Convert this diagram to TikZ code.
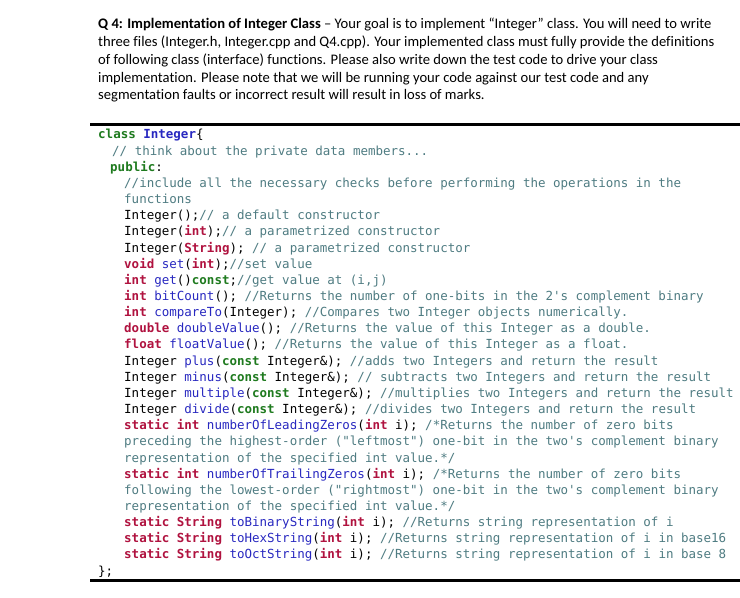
\documentclass[tikz,border=0pt]{standalone}
\usepackage{fontspec}
\setmainfont[Ligatures={TeX,NoCommon}]{Carlito}
\newfontfamily\codefont{DejaVu Sans Mono}
\definecolor{kwc}{HTML}{B0123F}
\definecolor{grc}{HTML}{1E7A1E}
\definecolor{fnc}{HTML}{2828C0}
\definecolor{cmc}{HTML}{4F7C82}
\newcommand{\kw}[1]{\textcolor{kwc}{\bfseries #1}}
\newcommand{\gk}[1]{\textcolor{grc}{\bfseries #1}}
\newcommand{\fn}[1]{\textcolor{fnc}{#1}}
\newcommand{\cm}[1]{\textcolor{cmc}{#1}}
\tikzset{txt/.style={anchor=base west,inner sep=0pt,font=\fontsize{14.6bp}{17bp}\selectfont},
code/.style={anchor=base west,inner sep=0pt,font=\codefont\fontsize{12.5bp}{16bp}\selectfont},
rulel/.style={line width=3bp,black}}
\begin{document}
\begin{tikzpicture}[x=1bp,y=-1bp]
\useasboundingbox[fill=white] (0,0) rectangle (740,598);
\node[txt] (t1) at (98,29) {\textbf{Q 4: Implementation of Integer Class} – Your goal is to implement “Integer" class. You will need to write};
\node[txt] (t2) at (98,46.7) {three files (Integer.h, Integer.cpp and Q4.cpp). Your implemented class must fully provide the definitions};
\node[txt] (t3) at (98,64.4) {of following class (interface) functions. Please also write down the test code to drive your class};
\node[txt] (t4) at (98,82.1) {implementation. Please note that we will be running your code against our test code and any};
\node[txt] (t5) at (98,99.8) {segmentation faults or incorrect result will result in loss of marks.};
\draw[rulel] (90,125) coordinate (r1a) -- (740,125) coordinate (r1b);
\draw[rulel] (90,580) coordinate (r2a) -- (740,580) coordinate (r2b);
\def\bl#1{\fpeval{139+16.15*(#1)}}
\node[code] (c1) at (98,{\bl{0}}) {\gk{class} \fn{\bfseries Integer}\{};
\node[code] (c2) at (112,{\bl{1}}) {\cm{// think about the private data members...}};
\node[code] (c3) at (110,{\bl{2}}) {\gk{public}:};
\node[code] (c4) at (124,{\bl{3}}) {\cm{//include all the necessary checks before performing the operations in the}};
\node[code] (c5) at (124,{\bl{4}}) {\cm{functions}};
\node[code] (c6) at (124,{\bl{5}}) {Integer();\cm{// a default constructor}};
\node[code] (c7) at (124,{\bl{6}}) {Integer(\kw{int});\cm{// a parametrized constructor}};
\node[code] (c8) at (124,{\bl{7}}) {Integer(\kw{String}); \cm{// a parametrized constructor}};
\node[code] (c9) at (124,{\bl{8}}) {\kw{void} \fn{set}(\kw{int});\cm{//set value}};
\node[code] (c10) at (124,{\bl{9}}) {\kw{int} \fn{get}()\gk{const};\cm{//get value at (i,j)}};
\node[code] (c11) at (124,{\bl{10}}) {\kw{int} \fn{bitCount}(); \cm{//Returns the number of one-bits in the 2's complement binary}};
\node[code] (c12) at (124,{\bl{11}}) {\kw{int} \fn{compareTo}(Integer); \cm{//Compares two Integer objects numerically.}};
\node[code] (c13) at (124,{\bl{12}}) {\kw{double} \fn{doubleValue}(); \cm{//Returns the value of this Integer as a double.}};
\node[code] (c14) at (124,{\bl{13}}) {\kw{float} \fn{floatValue}(); \cm{//Returns the value of this Integer as a float.}};
\node[code] (c15) at (124,{\bl{14}}) {Integer \fn{plus}(\gk{const} Integer\&); \cm{//adds two Integers and return the result}};
\node[code] (c16) at (124,{\bl{15}}) {Integer \fn{minus}(\gk{const} Integer\&); \cm{// subtracts two Integers and return the result}};
\node[code] (c17) at (124,{\bl{16}}) {Integer \fn{multiple}(\gk{const} Integer\&); \cm{//multiplies two Integers and return the result}};
\node[code] (c18) at (124,{\bl{17}}) {Integer \fn{divide}(\gk{const} Integer\&); \cm{//divides two Integers and return the result}};
\node[code] (c19) at (124,{\bl{18}}) {\kw{static} \kw{int} \fn{numberOfLeadingZeros}(\kw{int} i); \cm{/*Returns the number of zero bits}};
\node[code] (c20) at (124,{\bl{19}}) {\cm{preceding the highest-order ("leftmost") one-bit in the two's complement binary}};
\node[code] (c21) at (124,{\bl{20}}) {\cm{representation of the specified int value.*/}};
\node[code] (c22) at (124,{\bl{21}}) {\kw{static} \kw{int} \fn{numberOfTrailingZeros}(\kw{int} i); \cm{/*Returns the number of zero bits}};
\node[code] (c23) at (124,{\bl{22}}) {\cm{following the lowest-order ("rightmost") one-bit in the two's complement binary}};
\node[code] (c24) at (124,{\bl{23}}) {\cm{representation of the specified int value.*/}};
\node[code] (c25) at (124,{\bl{24}}) {\kw{static} \kw{String} \fn{toBinaryString}(\kw{int} i); \cm{//Returns string representation of i}};
\node[code] (c26) at (124,{\bl{25}}) {\kw{static} \kw{String} \fn{toHexString}(\kw{int} i); \cm{//Returns string representation of i in base16}};
\node[code] (c27) at (124,{\bl{26}}) {\kw{static} \kw{String} \fn{toOctString}(\kw{int} i); \cm{//Returns string representation of i in base 8}};
\node[code] (c28) at (98,{\bl{27}}) {\};};
\end{tikzpicture}
\end{document}
